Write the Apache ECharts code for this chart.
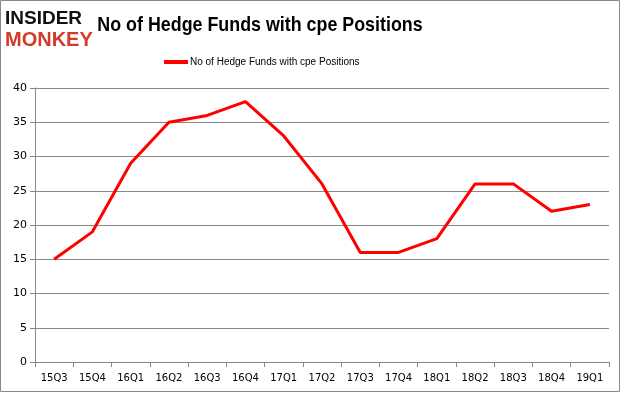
<!DOCTYPE html>
<html><head><meta charset="utf-8">
<script src="https://cdn.jsdelivr.net/npm/echarts@6/dist/echarts.min.js"></script>
<style>html,body{margin:0;padding:0;background:#fff}#c{width:625px;height:395px}</style>
</head><body><div id="c"></div>
<script>
var categories = ['15Q3','15Q4','16Q1','16Q2','16Q3','16Q4','17Q1','17Q2','17Q3','17Q4','18Q1','18Q2','18Q3','18Q4','19Q1'];
var values = [15,19,29,35,36,38,33,26,16,16,18,26,26,22,23];
var yTicks = [0,5,10,15,20,25,30,35,40];
var seriesName = 'No of Hedge Funds with cpe Positions';
var titleText = 'No of Hedge Funds with cpe Positions';

var chart = echarts.init(document.getElementById('c'), null, {renderer:'canvas'});
chart.setOption({
  animation:false,
  backgroundColor:'#fff',
  legend:{data:[seriesName], left:164, top:57, padding:0, itemWidth:24, itemHeight:4, itemGap:4,
    icon:'rect',
    textStyle:{fontFamily:'Liberation Sans', fontSize:10, color:'#000', padding:[0,0,0,-3]}},
  graphic:[
    {type:'rect', shape:{x:0.5,y:0.5,width:619,height:391}, style:{fill:null, stroke:'#888', lineWidth:1}, silent:true},
    {type:'text', left:5, top:9, style:{text:'INSIDER', font:'bold 19px "Liberation Sans"', fill:'#111'}},
    {type:'text', left:5, top:30, style:{text:'MONKEY', font:'bold 20px "Liberation Sans"', fill:'#d23a2a'}},
    {type:'text', x:260, y:25, scaleX:0.85, style:{text:titleText, font:'bold 21px "Liberation Sans"', fill:'#000', align:'center', verticalAlign:'middle'}}
  ],
  grid:{left:35, right:16, top:88, bottom:33, containLabel:false},
  xAxis:{type:'category', data:categories, boundaryGap:true,
    axisLine:{lineStyle:{color:'#888'}},
    axisTick:{show:true, length:5, lineStyle:{color:'#888'}},
    axisLabel:{fontFamily:'DejaVu Sans', fontSize:10, color:'#000', margin:11}},
  yAxis:{type:'value', min:0, max:40, interval:5,
    axisLine:{show:true, lineStyle:{color:'#888'}},
    axisTick:{show:true, length:5, lineStyle:{color:'#888'}},
    splitLine:{lineStyle:{color:'#888'}},
    axisLabel:{fontFamily:'DejaVu Sans', fontSize:11, color:'#000', margin:8,
      formatter:function(v){return yTicks.indexOf(v)>=0?String(v):'';}}},
  series:[{name:seriesName, type:'line', data:values, symbol:'none',
    lineStyle:{color:'#ff0000', width:3}, itemStyle:{color:'#ff0000'}}]
});
</script></body></html>
